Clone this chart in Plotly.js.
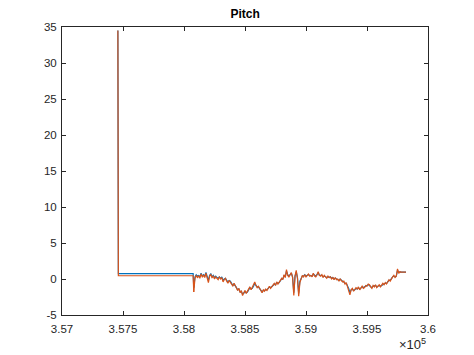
<!DOCTYPE html>
<html>
<head>
<meta charset="utf-8">
<script src="https://cdn.plot.ly/plotly-3.0.1.min.js"></script>
<style>html,body{margin:0;padding:0;background:#fff;}#chart{width:474px;height:355px;}</style>
</head>
<body>
<div id="chart"></div>
<script>
// Start-up segment: spike then flat line (explicit samples)
const startX = [357458, 357462, 358075, 358080];
const blueStartY = [34.5, 0.75, 0.75, -1.2];
const orangeStartY = [34.5, 0.45, 0.45, -1.8];

// Noisy segment: samples every 10 units starting at 358080
const noisyX0 = 358080;
const noisyDx = 10;
const blueNoisyY = [
  -1.2, 0.3, 0.6, 0.4, 0.5, 0.3, 0.8, 0.4, 0.6, 0.4,
  0.9, 0.4, -0.2, 0.5, 0.7, 0.3, 0.5, 0.2, 0.4, 0.2,
  0.1, 0.3, 0.1, 0.3, -0.2, 0.0, 0.1, -0.2, -0.4, -0.2,
  -0.3, -0.6, -0.9, -0.7, -0.9, -1.2, -1.5, -1.4, -1.8, -1.7,
  -2.1, -2.0, -1.7, -1.9, -1.8, -1.5, -1.2, -1.4, -1.3, -1.0,
  -0.6, -0.9, -1.1, -1.1, -1.3, -1.5, -1.8, -1.6, -1.6, -1.5,
  -1.5, -1.3, -1.1, -1.2, -1.1, -0.9, -0.7, -0.8, -0.5, -0.6,
  -0.5, -0.3, 0.0, 0.0, 0.5, 0.3, 1.1, 0.6, 0.4, 0.6,
  0.8, 0.3, -1.9, 0.4, 1.0, 0.2, -2.0, -0.3, 0.2, 0.4,
  0.4, 0.6, 0.4, 0.5, 0.6, 0.5, 0.5, 0.4, 0.7, 0.5,
  0.4, 0.6, 0.9, 0.5, 0.5, 0.5, 0.3, 0.4, 0.3, 0.2,
  0.3, 0.2, 0.3, 0.1, 0.2, 0.0, 0.1, 0.0, 0.0, -0.2,
  0.0, -0.2, -0.3, -0.4, -0.6, -0.6, -0.9, -1.3, -1.9, -1.5,
  -1.4, -1.6, -1.5, -1.3, -1.4, -1.2, -1.4, -1.2, -1.1, -1.2,
  -1.1, -1.0, -0.9, -0.8, -0.9, -1.0, -1.2, -1.0, -1.0, -0.9,
  -1.1, -1.0, -0.9, -1.0, -0.9, -0.7, -0.7, -0.6, -0.6, -0.4,
  -0.2, -0.2, 0.1, 0.3, 0.4, 0.3, 0.4, 1.2, 0.9, 1.0,
  0.95, 0.95, 0.95, 0.95, 0.95];
const orangeNoisyY = [
  -1.8, 0.1, 0.5, 0.2, 0.4, 0.1, 0.7, 0.3, 0.5, 0.2,
  0.8, 0.3, -0.5, 0.4, 0.6, 0.2, 0.4, 0.0, 0.3, 0.1,
  -0.1, 0.3, 0.0, 0.2, -0.4, -0.1, 0.1, -0.3, -0.6, -0.2,
  -0.4, -0.7, -1.0, -0.6, -0.9, -1.3, -1.6, -1.3, -1.9, -1.6,
  -2.3, -1.9, -1.6, -2.0, -1.7, -1.4, -1.1, -1.5, -1.2, -0.9,
  -0.4, -0.9, -1.2, -1.0, -1.4, -1.6, -1.9, -1.5, -1.7, -1.4,
  -1.6, -1.3, -1.0, -1.3, -1.1, -0.8, -0.6, -0.9, -0.4, -0.7,
  -0.5, -0.2, 0.1, -0.1, 0.6, 0.2, 1.3, 0.5, 0.3, 0.7,
  0.9, 0.2, -2.3, 0.4, 1.2, 0.1, -2.4, -0.5, 0.2, 0.5,
  0.3, 0.6, 0.3, 0.5, 0.7, 0.4, 0.5, 0.3, 0.8, 0.4,
  0.3, 0.6, 1.0, 0.5, 0.4, 0.6, 0.2, 0.5, 0.3, 0.1,
  0.4, 0.2, 0.3, 0.0, 0.2, -0.1, 0.2, -0.1, 0.0, -0.3,
  0.0, -0.2, -0.4, -0.3, -0.7, -0.5, -1.0, -1.4, -2.2, -1.5,
  -1.3, -1.7, -1.5, -1.2, -1.4, -1.1, -1.5, -1.2, -1.0, -1.3,
  -1.2, -0.9, -1.0, -0.7, -0.8, -1.1, -1.3, -0.9, -1.1, -0.8,
  -1.2, -1.0, -0.8, -1.1, -0.9, -0.6, -0.8, -0.5, -0.7, -0.3,
  -0.1, -0.3, 0.1, 0.3, 0.5, 0.2, 0.4, 1.4, 0.8, 1.0,
  0.95, 0.95, 0.95, 0.95, 0.95];

const xTickVals = [357000, 357500, 358000, 358500, 359000, 359500, 360000];
const xTickText = ['3.57', '3.575', '3.58', '3.585', '3.59', '3.595', '3.6'];
const yTickVals = [-5, 0, 5, 10, 15, 20, 25, 30, 35];
const yTickText = ['-5', '0', '5', '10', '15', '20', '25', '30', '35'];

const axisColor = '#262626';
const blue = '#0072BD', orange = '#D95319';
const traces = [
  {x: startX, y: blueStartY, type: 'scatter', mode: 'lines', line: {color: blue, width: 1.2}, hoverinfo: 'none'},
  {x0: noisyX0, dx: noisyDx, y: blueNoisyY, type: 'scatter', mode: 'lines', line: {color: blue, width: 1.2}, hoverinfo: 'none'},
  {x: startX, y: orangeStartY, type: 'scatter', mode: 'lines', line: {color: orange, width: 1.2}, hoverinfo: 'none'},
  {x0: noisyX0, dx: noisyDx, y: orangeNoisyY, type: 'scatter', mode: 'lines', line: {color: orange, width: 1.2}, hoverinfo: 'none'}
];
const layout = {
  width: 474, height: 355,
  margin: {l: 62, r: 46, t: 27, b: 40},
  paper_bgcolor: '#fff', plot_bgcolor: '#fff',
  showlegend: false,
  font: {family: 'Liberation Sans, Arial, sans-serif', size: 11, color: axisColor},
  title: {text: '<b>Pitch</b>', x: 0.5170, xanchor: 'center', y: 0.96, yanchor: 'middle', font: {size: 12, color: '#000'}},
  xaxis: {range: [357000, 360000], tickvals: xTickVals, ticktext: xTickText, ticks: 'inside', ticklen: 4,
    tickcolor: axisColor, showline: true, linecolor: axisColor, linewidth: 1, mirror: 'ticks',
    showgrid: false, zeroline: false, ticklabelstandoff: 3, tickfont: {size: 11.5, color: axisColor}},
  yaxis: {range: [-5, 35], tickvals: yTickVals, ticktext: yTickText, ticks: 'inside', ticklen: 4,
    tickcolor: axisColor, showline: true, linecolor: axisColor, linewidth: 1, mirror: 'ticks',
    showgrid: false, zeroline: false, ticklabelstandoff: 2, tickfont: {size: 11.5, color: axisColor}},
  annotations: [{text: '×10<sup>5</sup>', xref: 'paper', yref: 'paper', x: 1, y: -0.065, xanchor: 'right', yanchor: 'top',
    showarrow: false, font: {size: 13, color: axisColor}}]
};
Plotly.newPlot('chart', traces, layout, {displayModeBar: false, staticPlot: true});
</script>
</body>
</html>
